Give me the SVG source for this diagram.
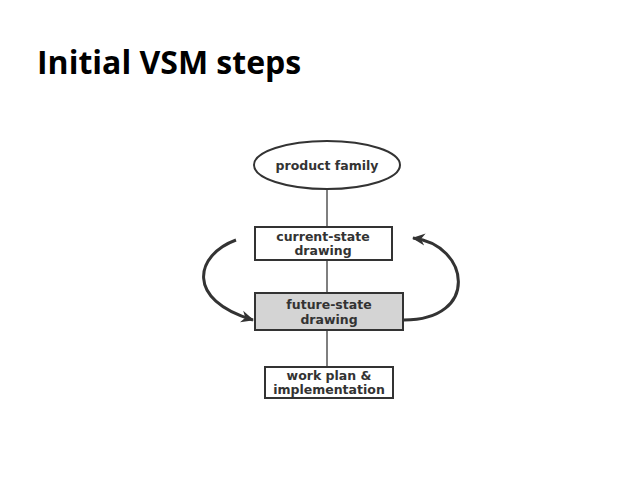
<svg xmlns="http://www.w3.org/2000/svg" width="638" height="479" viewBox="0 0 638 479">
<style>
.n{fill:#fff;stroke:#333;stroke-width:2}
.t{font-family:"DejaVu Sans",sans-serif;font-weight:bold;font-size:12.5px;fill:#333;text-anchor:middle}
.c{fill:none;stroke:#555;stroke-width:1.5}
.a{fill:none;stroke:#333;stroke-width:3}
</style>
<defs>
<marker id="hb" markerWidth="14" markerHeight="14" refX="12" refY="7" orient="auto" markerUnits="userSpaceOnUse"><path d="M0,1 L13,7 L0,13 L4,7 z" fill="#333"/></marker></defs>
<rect width="638" height="479" fill="#fff"/>
<text x="37" y="74" font-family="'Open Sans',sans-serif" font-weight="bold" font-size="32" fill="#000">Initial VSM steps</text>
<g id="connectors">
<line class="c" x1="327" y1="189" x2="327" y2="227"/>
<line class="c" x1="327" y1="260" x2="327" y2="293"/>
<line class="c" x1="327" y1="330" x2="327" y2="367"/>
<path class="a" d="M236,240 C195,255 185,300 253,320" marker-end="url(#hb)"/>
<path class="a" d="M404,320 C480,320 470,245 413,238" marker-end="url(#hb)"/>
</g>
<g id="product-family"><ellipse class="n" cx="327" cy="165" rx="73" ry="24"/><text class="t" x="327" y="170">product family</text></g>
<g id="current-state"><rect class="n" x="255" y="227" width="137" height="33"/><text class="t" x="323" y="241">current-state</text><text class="t" x="323" y="255">drawing</text></g>
<g id="future-state"><rect class="n" x="255" y="293" width="148" height="37" style="fill:#d4d4d4"/><text class="t" x="329" y="309">future-state</text><text class="t" x="329" y="324">drawing</text></g>
<g id="work-plan"><rect class="n" x="265" y="367" width="128" height="31"/><text class="t" x="329" y="380">work plan &amp;</text><text class="t" x="329" y="394">implementation</text></g>
</svg>
